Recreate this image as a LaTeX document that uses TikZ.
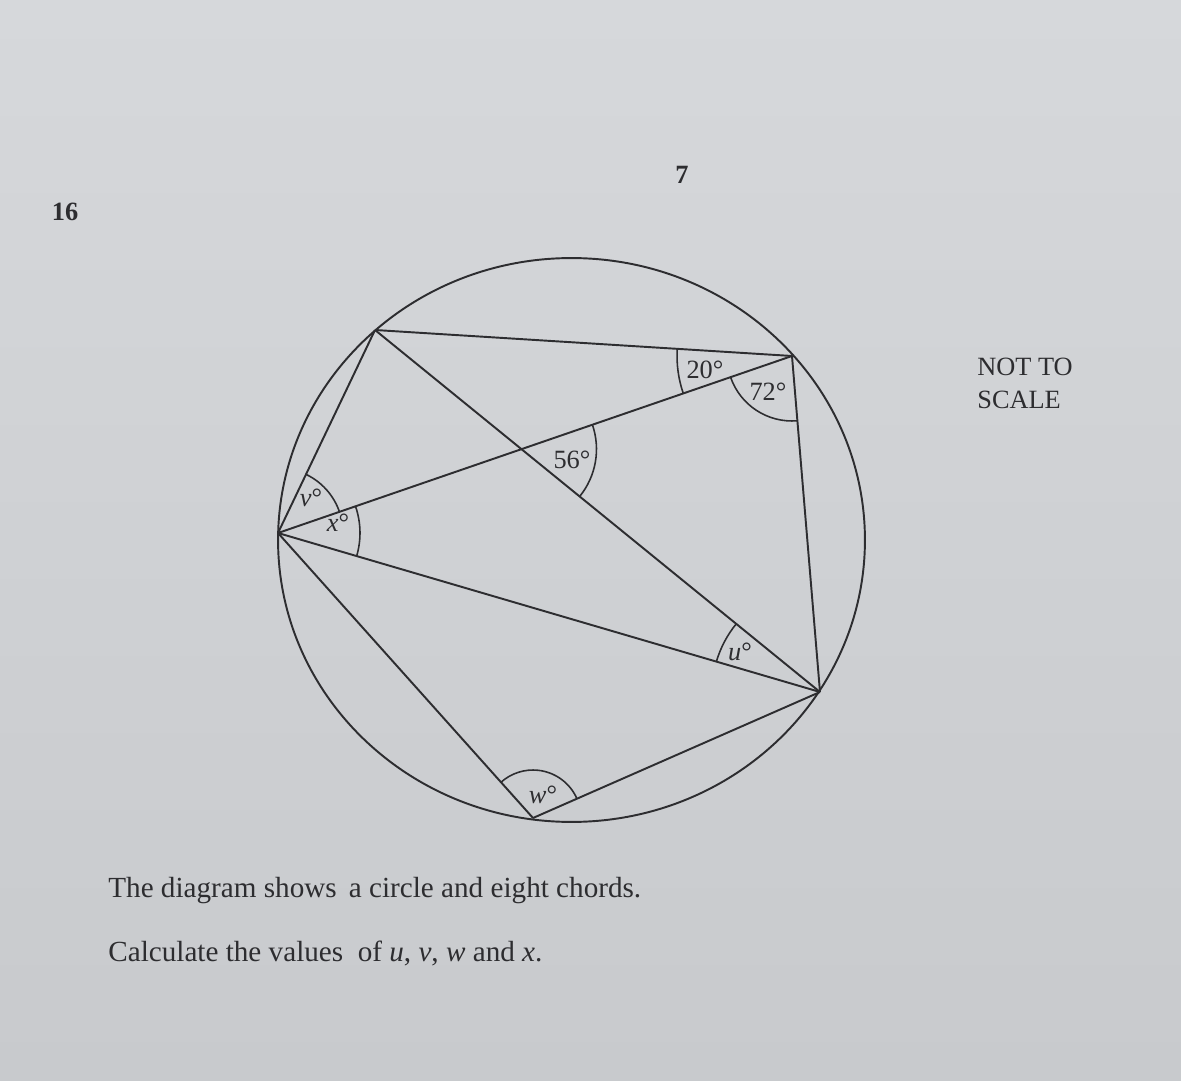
\documentclass[tikz,border=0pt]{standalone}
\usepackage{fontspec}
\setmainfont{Liberation Serif}
\usetikzlibrary{angles}
\definecolor{paperA}{RGB}{214,216,219}
\definecolor{paperB}{RGB}{200,202,205}
\definecolor{ink}{RGB}{45,45,48}
\begin{document}
\begin{tikzpicture}[x=0.02cm,y=0.02cm,
  chord/.style={draw=ink,line width=1.1pt},
  anglearc/.style={draw=ink,line width=0.9pt},
  lbl/.style={text=ink,font=\fontsize{15}{18}\selectfont,inner sep=0pt},
  body/.style={text=ink,font=\fontsize{16.6}{19}\selectfont,inner sep=0pt,anchor=base west}]
\useasboundingbox (0,0) rectangle (1181,1080);
\shade[top color=paperA,bottom color=paperB] (0,0) rectangle (1181,1080);
% points
\coordinate (O) at (571.5,540);
\coordinate (A) at (375,750);
\coordinate (B) at (792,724);
\coordinate (C) at (278,547);
\coordinate (D) at (820,388);
\coordinate (E) at (533,262);
\coordinate (P) at (intersection of A--D and B--C);
% circle
\draw[chord] (O) ellipse [x radius=5.87cm, y radius=5.64cm];
% eight chords
\draw[chord] (A) -- (B);
\draw[chord] (A) -- (C);
\draw[chord] (A) -- (D);
\draw[chord] (B) -- (C);
\draw[chord] (B) -- (D);
\draw[chord] (C) -- (D);
\draw[chord] (C) -- (E);
\draw[chord] (E) -- (D);
% angle arcs
\pic[anglearc, angle radius=2.3cm] {angle = A--B--C};
\pic[anglearc, angle radius=1.3cm] {angle = C--B--D};
\pic[anglearc, angle radius=1.5cm] {angle = D--P--B};
\pic[anglearc, angle radius=1.3cm] {angle = B--C--A};
\pic[anglearc, angle radius=1.64cm] {angle = D--C--B};
\pic[anglearc, angle radius=2.16cm] {angle = A--D--C};
\pic[anglearc, angle radius=0.96cm] {angle = D--E--C};
% angle labels
\node[lbl] (l20) at (705,710) {20°};
\node[lbl] (l72) at (768,688) {72°};
\node[lbl] (l56) at (572,620) {56°};
\node[lbl] (lv) at (311,582) {\textit{v}°};
\node[lbl] (lx) at (338,557) {\textit{x}°};
\node[lbl] (lu) at (740,428) {\textit{u}°};
\node[lbl] (lw) at (543,285) {\textit{w}°};
% page text
\node[lbl,font=\fontsize{15}{18}\selectfont\bfseries] (q16) at (65,868) {16};
\node[lbl,font=\fontsize{15}{18}\selectfont\bfseries] (p7) at (682,905) {7};
\node[lbl,anchor=base west,font=\fontsize{15}{18}\selectfont] (nts1) at (977,704) {NOT TO};
\node[lbl,anchor=base west,font=\fontsize{15}{18}\selectfont] (nts2) at (977,671) {SCALE};
\node[body] (t1) at (108,183) {The diagram shows \,a circle and eight chords.};
\node[body] (t2) at (108,119) {Calculate the values \ of \textit{u}, \textit{v}, \textit{w} and \textit{x}.};
\end{tikzpicture}
\end{document}
